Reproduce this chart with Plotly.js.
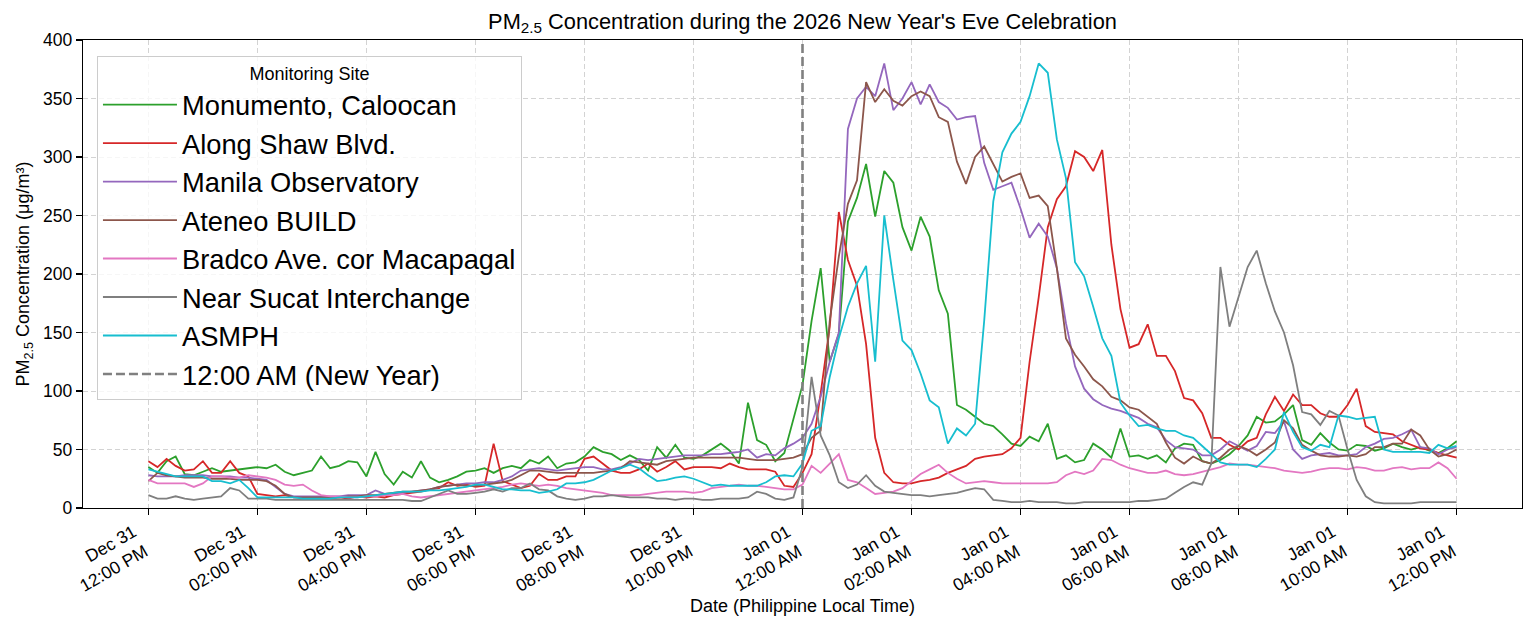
<!DOCTYPE html>
<html><head><meta charset="utf-8">
<script src="https://cdn.plot.ly/plotly-3.0.1.min.js"></script>
<style>html,body{margin:0;padding:0;background:#fff}#chart{width:1536px;height:627px}</style>
</head><body><div id="chart"></div>
<script>
// Time grid: readings every 10 minutes, Dec 31 2025 12:00 PM to Jan 01 2026 12:00 PM (PHT)
const START = '2025-12-31T12:00:00Z';
const STEP_MIN = 10;
const NEW_YEAR = '2026-01-01 00:00';
const Y_MAX = 400;

const SITES = ['Monumento, Caloocan','Along Shaw Blvd.','Manila Observatory','Ateneo BUILD','Bradco Ave. cor Macapagal','Near Sucat Interchange','ASMPH'];
const COLORS = ['#2ca02c','#d62728','#9467bd','#8c564b','#e377c2','#7f7f7f','#17becf'];

const monumento = [35,30,40,44,29,28,31,34,31,32,33,34,35,
 34,37,31,28,30,32,44,34,36,40,39,27,
 48,29,20,31,26,40,26,22,24,27,31,32,
 34,30,34,36,34,41,38,44,34,38,39,44,
 52,48,46,41,45,41,32,52,43,54,43,42,
 45,50,55,49,38,90,58,54,40,47,77,105,
 160,205,125,149,245,265,294,249,288,278,240,220,
 249,232,186,166,88,84,78,72,70,63,55,53,
 61,57,72,42,45,39,41,55,50,43,68,44,
 45,42,45,39,51,55,54,40,38,41,46,53,
 62,78,73,74,80,88,58,54,64,56,50,49,
 54,53,49,51,55,52,50,52,49,47,51,57];

const shaw = [40,35,42,36,32,33,40,30,30,40,30,27,12,
 11,10,11,9,9,8,9,8,9,8,10,9,
 10,9,11,12,13,14,16,17,22,19,20,18,
 19,55,23,20,17,19,29,24,24,27,27,42,
 44,38,32,30,30,33,38,31,35,40,33,35,
 35,35,34,38,35,33,33,33,31,19,18,30,
 46,98,155,253,212,190,140,60,30,22,21,21,
 23,24,26,30,33,36,42,44,45,46,51,60,
 125,180,240,264,275,305,300,288,306,225,170,137,
 140,157,130,130,117,94,92,81,60,60,54,50,
 57,60,80,95,83,97,88,88,81,78,78,88,
 102,70,65,64,63,57,54,51,50,47,45,43];

const observatory = [28,27,27,27,28,28,28,27,27,27,26,26,25,
 24,18,12,10,10,10,10,10,10,11,11,11,
 15,12,12,13,14,15,16,18,19,20,21,21,
 22,22,24,27,32,33,34,33,32,33,34,35,
 35,33,33,35,38,42,41,42,43,44,45,45,
 45,46,46,47,48,50,43,46,45,51,55,60,
 72,95,125,150,324,350,360,352,380,340,350,364,
 345,362,347,342,332,334,335,295,272,275,278,256,
 231,243,232,205,158,121,102,93,88,85,83,80,
 77,72,69,58,52,51,50,45,45,50,57,53,
 49,53,65,64,74,50,42,45,46,47,45,45,
 46,52,55,59,60,63,67,52,51,46,50,52];

const ateneo = [23,30,28,27,26,26,26,25,25,25,24,24,24,
 23,19,12,9,9,9,9,9,9,10,10,11,
 11,12,13,14,14,15,16,18,19,20,19,19,
 20,21,22,24,28,32,32,31,30,30,30,30,
 30,31,32,34,40,39,38,37,40,41,42,43,
 43,43,43,43,43,42,41,41,41,42,43,46,
 60,66,160,215,260,280,364,347,358,348,344,352,
 356,352,334,330,296,277,300,309,294,279,283,286,
 265,267,258,205,145,131,121,110,104,95,92,86,
 84,78,72,56,43,38,44,40,38,43,50,53,
 50,45,50,56,75,68,54,49,45,44,44,45,
 44,46,52,52,55,55,67,62,50,44,46,50];

const bradco = [24,21,21,21,21,18,21,27,27,26,26,28,27,
 26,24,20,19,20,15,11,10,10,9,9,10,
 10,11,11,12,10,9,10,11,12,13,14,15,
 16,17,18,20,21,20,19,20,19,17,16,15,
 14,13,11,11,11,11,12,13,14,14,14,13,
 14,17,18,19,20,19,19,18,17,16,16,20,
 36,30,38,46,24,22,17,12,13,14,17,23,
 29,33,37,30,25,21,22,23,22,21,21,21,
 21,21,21,22,28,31,29,32,42,41,37,34,
 32,30,30,32,29,28,29,31,33,35,38,37,
 37,36,35,34,32,31,30,31,33,34,34,33,
 35,34,32,32,34,35,33,34,34,39,34,25];

const sucat = [11,8,8,10,8,7,8,9,10,17,15,8,8,
 8,7,7,7,7,7,7,7,7,7,7,7,
 7,7,7,7,6,6,9,12,15,12,12,13,
 14,16,14,17,17,21,16,15,10,8,7,8,
 10,10,11,10,9,9,9,8,8,7,8,8,
 7,7,8,8,8,9,14,12,8,7,9,35,
 112,62,45,22,17,20,28,19,14,13,12,11,
 11,10,11,12,13,15,17,16,7,6,5,5,
 6,5,5,5,4,4,5,5,5,5,5,5,
 6,6,7,8,13,18,22,20,38,206,155,181,
 206,220,192,168,150,122,82,80,71,83,79,50,
 24,10,5,4,4,4,4,5,5,5,5,5];

const asmph = [33,31,29,27,27,27,27,23,23,21,24,17,9,
 9,9,9,9,8,8,8,8,9,9,9,10,
 11,12,13,14,14,14,15,15,16,17,18,20,
 20,18,16,16,15,15,13,14,16,21,21,22,
 24,28,32,34,37,34,28,23,24,26,27,25,
 22,19,20,19,19,19,19,22,27,28,27,38,
 66,70,112,145,172,192,207,125,250,195,143,135,
 115,92,86,55,68,62,72,160,262,304,320,330,
 352,380,372,315,282,210,198,172,145,130,90,79,
 70,71,68,66,66,62,60,53,46,39,37,37,
 37,35,42,50,82,65,52,49,54,52,79,78,
 76,77,78,50,48,48,48,48,47,54,51,53];

const SERIES = [monumento, shaw, observatory, ateneo, bradco, sucat, asmph];

function timeGrid(n){
  const t0 = Date.parse(START);
  return Array.from({length:n}, (_,i)=> new Date(t0 + i*STEP_MIN*60000).toISOString().slice(0,16).replace('T',' '));
}

const traces = SERIES.map((vals, k) => ({
  type:'scatter', mode:'lines', name:SITES[k],
  x: timeGrid(vals.length), y: vals,
  line:{color:COLORS[k], width:1.8}
}));
traces.push({
  type:'scatter', mode:'lines', name:'12:00 AM (New Year)',
  x:[NEW_YEAR, NEW_YEAR], y:[0, Y_MAX],
  line:{color:'#808080', width:2.6, dash:'9px,4px'}
});

const FONT = '"Liberation Sans", Arial, Helvetica, sans-serif';
const axisCommon = {
  ticks:'outside', ticklen:6, tickwidth:1.3, tickcolor:'#000',
  showline:true, linecolor:'#000', linewidth:1.3, mirror:true,
  showgrid:true, gridcolor:'#d3d3d3', gridwidth:1, griddash:'5px,3px',
  zeroline:false, automargin:false, tickfont:{size:17.5, color:'#000'}
};

const layout = {
  width:1536, height:627,
  margin:{l:83, r:14, t:40, b:119},
  paper_bgcolor:'#fff', plot_bgcolor:'#fff',
  font:{family:FONT, color:'#000', size:16},
  title:{text:'PM<sub>2.5</sub> Concentration during the 2026 New Year\'s Eve Celebration',
    font:{size:21.8, color:'#000'}, x:0.5, xref:'paper', xanchor:'center',
    y:1-21/627, yref:'container', yanchor:'middle'},
  xaxis:Object.assign({}, axisCommon, {
    type:'date', range:['2025-12-31 10:48','2026-01-01 13:12'],
    tickmode:'linear', tick0:'2025-12-31 12:00', dtick:7200000,
    tickformat:'%b %d<br>%I:%M %p', tickangle:-30, ticklabelshift:-15,
    title:{text:'Date (Philippine Local Time)', font:{size:18}, standoff:3}
  }),
  yaxis:Object.assign({}, axisCommon, {
    range:[0, Y_MAX], tickmode:'linear', tick0:0, dtick:50,
    title:{text:'PM<sub>2.5</sub> Concentration (μg/m³)', font:{size:18}, standoff:8}
  }),
  showlegend:true,
  legend:{x:0.0097, y:0.966, xanchor:'left', yanchor:'top',
    bgcolor:'rgba(255,255,255,0.8)', bordercolor:'#cccccc', borderwidth:1,
    font:{size:27.3, color:'#000'}, itemwidth:74,
    title:{text:'Monitoring Site', side:'top center', font:{size:18}}}
};

Plotly.newPlot('chart', traces, layout, {displayModeBar:false, staticPlot:true});
</script>
</body></html>
